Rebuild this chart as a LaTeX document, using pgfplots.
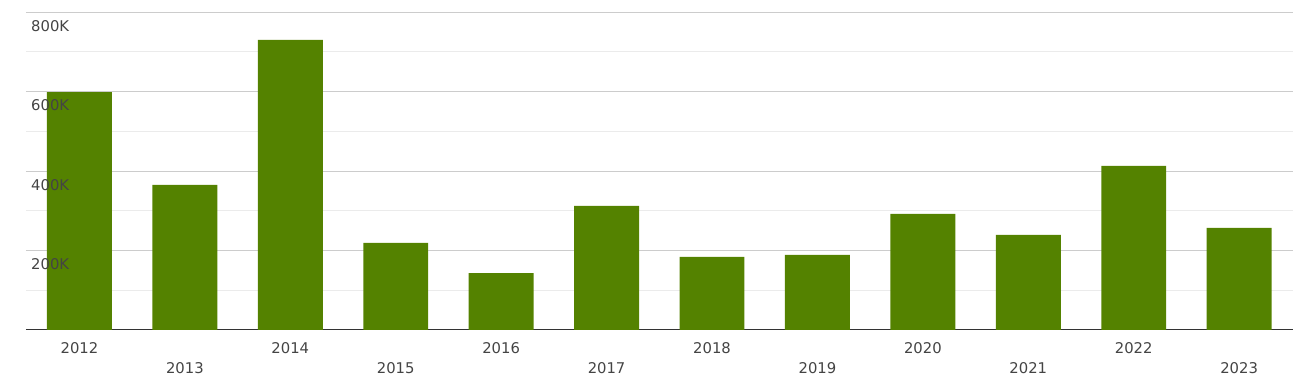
\documentclass[border=0pt]{standalone}
\usepackage{fontspec}
\setmainfont{DejaVu Sans}
\usepackage{pgfplots}
\pgfplotsset{compat=1.18}
\definecolor{bar}{HTML}{548200}
\definecolor{lab}{HTML}{444444}
\pgfplotsset{
  layers/labelsontop/.define layer set={
    axis background,axis grid,axis ticks,axis lines,pre main,main,axis tick labels,axis descriptions,axis foreground
  }{/pgfplots/layers/standard},
}
\begin{document}
\begin{tikzpicture}
\begin{axis}[
  set layers=labelsontop,
  scale only axis,
  width=1267pt, height=318pt,
  xmin=-0.507, xmax=11.507,
  ymin=0, ymax=800000,
  scaled y ticks=false,
  axis x line=bottom, axis y line=left,
  x axis line style={-, draw=black!80, line width=0.8pt},
  y axis line style={draw=none},
  ybar, bar width=0.616, bar shift=0pt,
  clip=false,
  ytick={200000,400000,600000,800000},
  yticklabels={200K,400K,600K,800K},
  minor ytick={100000,300000,500000,700000},
  ymajorgrids, yminorgrids,
  major grid style={draw=black!20, line width=0.8pt},
  minor grid style={draw=black!8, line width=0.8pt},
  major tick length=0pt, minor tick length=0pt,
  yticklabel style={anchor=north west, inner sep=0pt, xshift=5pt, yshift=-8pt, font=\fontsize{14.8}{16}\selectfont, text=lab},
  xtick={0,2,4,6,8,10},
  xticklabels={2012,2014,2016,2018,2020,2022},
  extra x ticks={1,3,5,7,9,11},
  extra x tick labels={2013,2015,2017,2019,2021,2023},
  extra x tick style={xticklabel style={yshift=-20pt}, grid=none},
  xticklabel style={anchor=north, inner sep=0pt, yshift=-12.5pt, font=\fontsize{14.8}{16}\selectfont, text=lab},
]
\addplot[fill=bar, draw=none] coordinates {
(0,598000) (1,365000) (2,730000) (3,219000) (4,143000) (5,312000)
(6,184000) (7,189000) (8,292000) (9,239000) (10,413000) (11,257000)};
\path (rel axis cs:-0.02052,-0.1698) rectangle (rel axis cs:1,1.0377);
\end{axis}
\end{tikzpicture}
\end{document}
